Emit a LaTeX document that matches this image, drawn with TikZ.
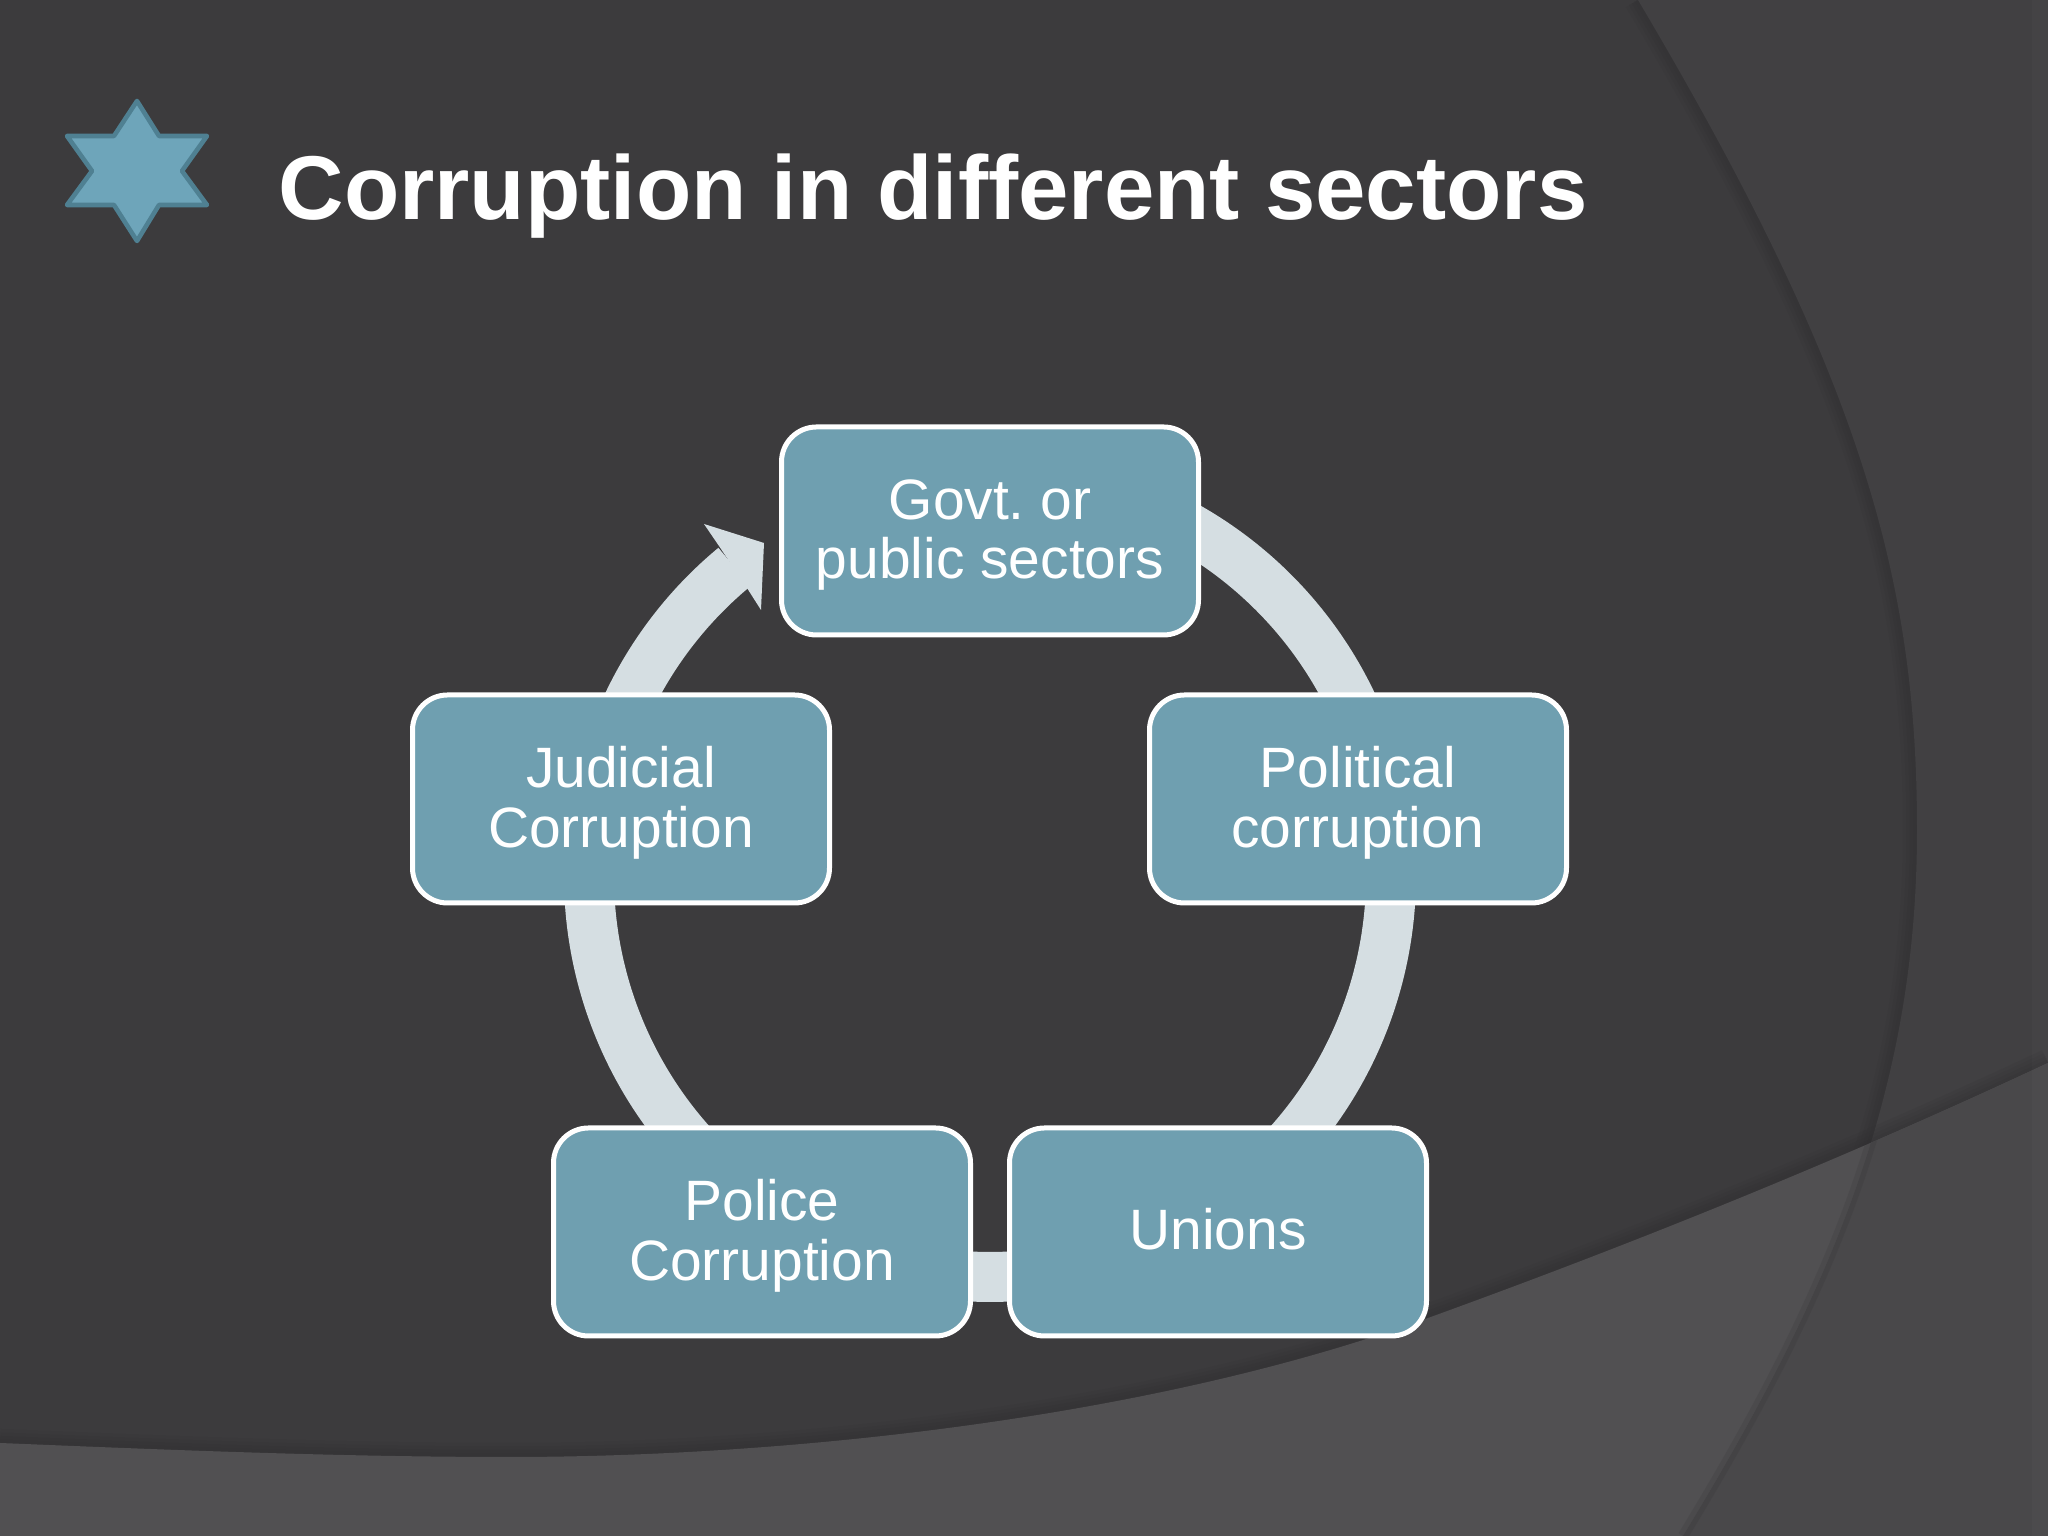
\documentclass[tikz,border=0pt]{standalone}
\usepackage{fontspec}
\setmainfont{Liberation Sans}
\usetikzlibrary{calc}

\definecolor{slidebg}{HTML}{3C3B3D}
\definecolor{sliderim}{HTML}{414042}
\definecolor{slideband}{HTML}{515052}
\definecolor{slidebandrim}{HTML}{49484A}
\definecolor{edgeshade}{HTML}{2E2D2F}
\definecolor{boxfill}{HTML}{6F9FB0}
\definecolor{ringfill}{HTML}{D5DEE2}
\definecolor{starfill}{HTML}{6EA5BA}
\definecolor{starline}{HTML}{4F8092}

\newcommand{\rimedge}{(16.38,15.36) .. controls (18.62,11.58) and (19.17,9.56) .. (19.17,7.06) .. controls (19.17,4.56) and (18.39,2.56) .. (16.83,0)}
\newcommand{\bandedge}{(0,0.93) .. controls (1.70,0.86) and (3.40,0.79) .. (5.10,0.79) .. controls (7.80,0.79) and (11.48,1.16) .. (14.28,2.18) .. controls (16.35,2.93) and (18.41,3.76) .. (20.48,4.73)}

\tikzset{
  sectorbox/.style={draw=white, line width=0.05cm, fill=boxfill, rounded corners=0.35cm,
    minimum width=4.17cm, minimum height=2.08cm, text=white, align=center,
    font=\frenchspacing\fontsize{16.2}{16.9}\selectfont, text depth=1.1pt},
  ringline/.style={draw=ringfill, line width=0.5cm},
}

\begin{document}
\begin{tikzpicture}

\useasboundingbox (0,0) rectangle (20.48,15.36);

% backdrop
\fill[slidebg] (0,0) rectangle (20.48,15.36);
\foreach \w in {2,4,6,8} {
  \draw[edgeshade, line width=\w pt, opacity=0.12] \rimedge;
}
\fill[sliderim] \rimedge -- (20.48,0) -- (20.48,15.36) -- cycle;
\foreach \w in {2,4,6,8} {
  \draw[edgeshade, line width=\w pt, opacity=0.12] \bandedge;
}
\fill[slideband] \bandedge -- (20.48,0) -- (0,0) -- cycle;
\begin{scope}
  \clip \bandedge -- (20.48,0) -- (0,0) -- cycle;
  \fill[slidebandrim] \rimedge -- (20.48,0) -- (20.48,15.36) -- cycle;
  \draw[edgeshade, line width=3pt, opacity=0.15] \rimedge;
\end{scope}
\fill[white, opacity=0.02] (20.32,0) rectangle (20.48,15.36);

% star
\fill[starfill, draw=starline, line width=1.3pt, line join=round]
  (1.37,14.35) -- (1.59,14.00) -- (2.07,14.00) -- (1.82,13.65) -- (2.07,13.31)
  -- (1.59,13.31) -- (1.37,12.95) -- (1.14,13.31) -- (0.67,13.31) -- (0.92,13.65)
  -- (0.67,14.00) -- (1.14,14.00) -- cycle;

\node[anchor=base west, inner sep=0pt, text=white, font=\bfseries\fontsize{25.78}{28}\selectfont] (title) at (2.78,13.16) {Corruption in different sectors};

% ring
\coordinate (hub) at (9.90,6.60);
\coordinate (ringgovt) at ($(hub)+(70:4.01)$);
\coordinate (ringpolitical) at ($(hub)+(20:4.01)$);
\coordinate (ringunions) at ($(hub)+(-55:4.01)$);
\coordinate (ringpolice) at ($(hub)+(-125:4.01)$);
\coordinate (ringjudicial) at ($(hub)+(170:4.01)$);

\draw[ringline] (ringgovt) arc[start angle=70, end angle=20, radius=4.01];
\draw[ringline] (ringpolitical) arc[start angle=20, end angle=-55, radius=4.01];
\draw[ringline] (ringunions) arc[start angle=-55, end angle=-125, radius=4.01];
\draw[ringline] (ringpolice) arc[start angle=-125, end angle=-190, radius=4.01];
\draw[ringline] (ringjudicial) arc[start angle=170, end angle=129.6, radius=4.01];

\coordinate (headout) at (7.04,10.12);
\coordinate (headtip) at (7.64,9.93);
\coordinate (headin) at (7.61,9.26);
\coordinate (notchin) at (7.47,9.48);
\coordinate (notchout) at (7.19,9.90);
\fill[ringfill] (headout) -- (headtip) -- (headin) -- (notchin) -- (notchout) -- cycle;

% boxes
\node[sectorbox] (govt) at (9.90,10.05) {Govt. or\\public sectors};
\node[sectorbox] (political) at (13.58,7.37) {Political\\corruption};
\node[sectorbox, text depth=1.5pt] (unions) at (12.18,3.04) {Unions};
\node[sectorbox] (police) at (7.62,3.04) {Police\\Corruption};
\node[sectorbox] (judicial) at (6.21,7.37) {Judicial\\Corruption};

\end{tikzpicture}
\end{document}
